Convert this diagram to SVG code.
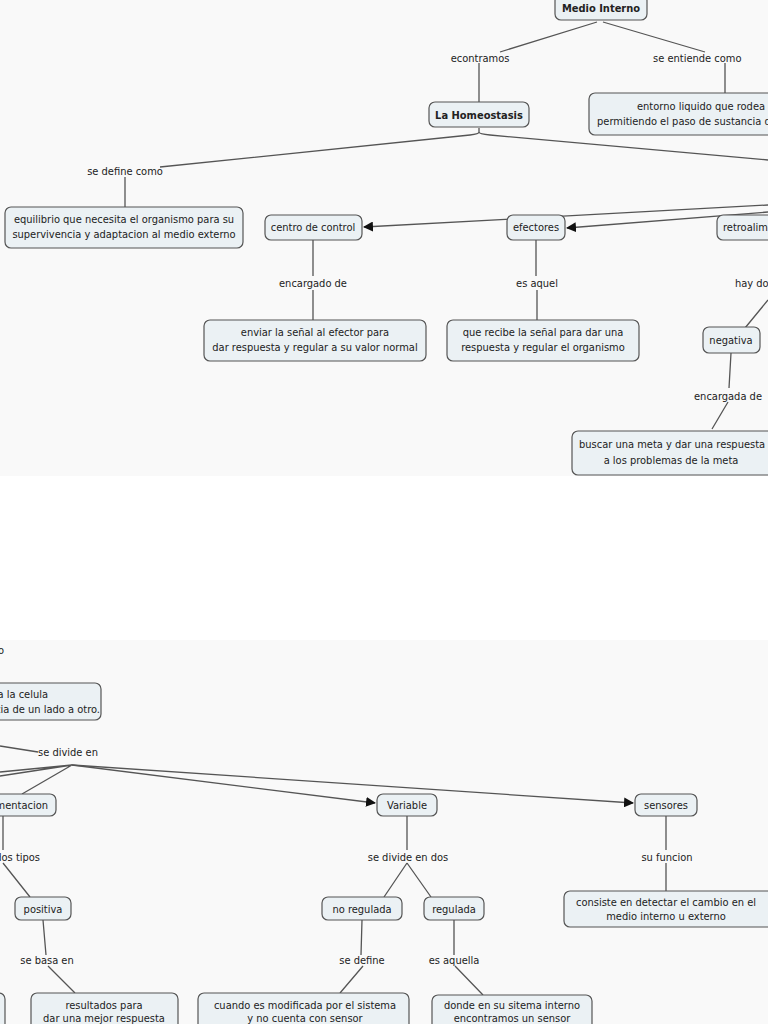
<svg xmlns="http://www.w3.org/2000/svg" width="768" height="1024" viewBox="0 0 768 1024">
<style>
text{font-family:"DejaVu Sans Condensed","DejaVu Sans",sans-serif;font-size:11px;fill:#222}
.c{text-anchor:middle}.e{text-anchor:end}.b{font-weight:bold}
.n{fill:#ebf1f4;stroke:#555;stroke-width:1.2}
.l{fill:none;stroke:#555;stroke-width:1.3}
</style>
<defs><marker id="a" markerWidth="10" markerHeight="10" refX="9" refY="5" orient="auto" markerUnits="userSpaceOnUse"><path d="M0,0L10,5L0,10z" fill="#111"/></marker></defs>
<rect x="0" y="0" width="768" height="476" fill="#f9f9f9"/>
<rect x="0" y="640" width="768" height="384" fill="#f9f9f9"/>
<g id="connectors">
<path class="l" d="M597,22L500,52M603,22L705,52M479,63V102M725,63V93"/>
<path class="l" d="M479,128V132Q479,134 470,135L160,167M479,128V132Q479,134 490,135L768,160"/>
<path class="l" d="M125,177V207"/>
<path class="l" d="M768,205L364,227" marker-end="url(#a)"/>
<path class="l" d="M768,212L567,228" marker-end="url(#a)"/>
<path class="l" d="M313,240V276M313,290V320M536,240V276M537,290V320"/>
<path class="l" d="M768,300L745,328M731,353L729,388M728,402L712,429"/>
<path class="l" d="M0,746L38,752"/>
<path class="l" d="M72,765L0,772M72,765L0,776M72,765L22,794"/>
<path class="l" d="M72,765L375,803" marker-end="url(#a)"/>
<path class="l" d="M72,765L633,803" marker-end="url(#a)"/>
<path class="l" d="M3,816V850M3,863L30,897M43,920L46,955M48,966L75,993"/>
<path class="l" d="M407,816V850M407,863L384,897M407,863L431,897M362,920L361,955M363,966L340,993M454,920V955M455,966L483,995M666,816V850M666,863V891"/>
</g>
<g id="lbl">
<text class="c" x="480" y="62">econtramos</text>
<text x="653" y="62">se entiende como</text>
<text class="c" x="125" y="175">se define como</text>
<text class="c" x="313" y="287">encargado de</text>
<text class="c" x="537" y="287">es aquel</text>
<text x="735" y="287">hay dos tipos</text>
<text class="c" x="728" y="400">encargada de</text>
<text class="e" x="4" y="654">o</text>
<text x="38" y="756">se divide en</text>
<text class="e" x="40" y="861">hay dos tipos</text>
<text class="c" x="47" y="964">se basa en</text>
<text class="c" x="408" y="861">se divide en dos</text>
<text class="c" x="362" y="964">se define</text>
<text class="c" x="454" y="964">es aquella</text>
<text class="c" x="667" y="861">su funcion</text>
</g>
<g id="medio"><rect class="n" x="555" y="-5" width="92" height="25" rx="6"/><text class="c b" x="601" y="12">Medio Interno</text></g>
<g id="homeo"><rect class="n" x="429" y="102" width="100" height="25" rx="6"/><text class="c b" x="479" y="119">La Homeostasis</text></g>
<g id="entorno"><rect class="n" x="589" y="93" width="190" height="42" rx="6"/><text x="637" y="110">entorno liquido que rodea la celula</text><text x="597" y="125">permitiendo el paso de sustancia de un lado a otro.</text></g>
<g id="equilibrio"><rect class="n" x="5" y="207" width="238" height="41" rx="6"/><text class="c" x="124" y="223">equilibrio que necesita el organismo para su</text><text class="c" x="124" y="238">supervivencia y adaptacion al medio externo</text></g>
<g id="centro"><rect class="n" x="265" y="215" width="97" height="25" rx="6"/><text class="c" x="313" y="231">centro de control</text></g>
<g id="efectores"><rect class="n" x="507" y="215" width="58" height="25" rx="6"/><text class="c" x="536" y="231">efectores</text></g>
<g id="retro"><rect class="n" x="717" y="215" width="90" height="25" rx="6"/><text x="723" y="231">retroalimentacion</text></g>
<g id="enviar"><rect class="n" x="204" y="320" width="222" height="41" rx="6"/><text class="c" x="315" y="336">enviar la señal al efector para</text><text class="c" x="315" y="351">dar respuesta y regular a su valor normal</text></g>
<g id="recibe"><rect class="n" x="447" y="320" width="192" height="41" rx="6"/><text class="c" x="543" y="336">que recibe la señal para dar una</text><text class="c" x="543" y="351">respuesta y regular el organismo</text></g>
<g id="negativa"><rect class="n" x="703" y="327" width="57" height="26" rx="6"/><text class="c" x="731" y="344">negativa</text></g>
<g id="buscar"><rect class="n" x="572" y="431" width="220" height="44" rx="6"/><text x="579" y="448">buscar una meta y dar una respuesta</text><text class="c" x="671" y="464">a los problemas de la meta</text></g>
<g id="entorno2"><rect class="n" x="-100" y="683" width="201" height="37" rx="6"/><text class="e" x="48" y="698">entorno liquido que rodea la celula</text><text class="e" x="100" y="713">permitiendo el paso de sustancia de un lado a otro.</text></g>
<g id="retro2"><rect class="n" x="-40" y="794" width="96" height="22" rx="6"/><text class="e" x="48" y="809">retroalimentacion</text></g>
<g id="variable"><rect class="n" x="377" y="794" width="60" height="22" rx="6"/><text class="c" x="407" y="809">Variable</text></g>
<g id="sensores"><rect class="n" x="635" y="794" width="62" height="22" rx="6"/><text class="c" x="666" y="809">sensores</text></g>
<g id="positiva"><rect class="n" x="15" y="897" width="56" height="23" rx="6"/><text class="c" x="43" y="913">positiva</text></g>
<g id="noreg"><rect class="n" x="322" y="897" width="80" height="23" rx="6"/><text class="c" x="362" y="913">no regulada</text></g>
<g id="reg"><rect class="n" x="424" y="897" width="60" height="23" rx="6"/><text class="c" x="454" y="913">regulada</text></g>
<g id="consiste"><rect class="n" x="564" y="891" width="214" height="36" rx="6"/><text class="c" x="666" y="906">consiste en detectar el cambio en el</text><text class="c" x="666" y="920">medio interno u externo</text></g>
<g id="leftcut"><rect class="n" x="-20" y="993" width="25" height="40" rx="6"/></g>
<g id="resultados"><rect class="n" x="31" y="993" width="147" height="40" rx="6"/><text class="c" x="104" y="1009">resultados para</text><text class="c" x="104" y="1022">dar una mejor respuesta</text></g>
<g id="cuando"><rect class="n" x="198" y="993" width="211" height="40" rx="6"/><text class="c" x="305" y="1009">cuando es modificada por el sistema</text><text class="c" x="305" y="1022">y no cuenta con sensor</text></g>
<g id="donde"><rect class="n" x="432" y="995" width="160" height="40" rx="6"/><text class="c" x="512" y="1009">donde en su sitema interno</text><text class="c" x="512" y="1022">encontramos un sensor</text></g>
</svg>
